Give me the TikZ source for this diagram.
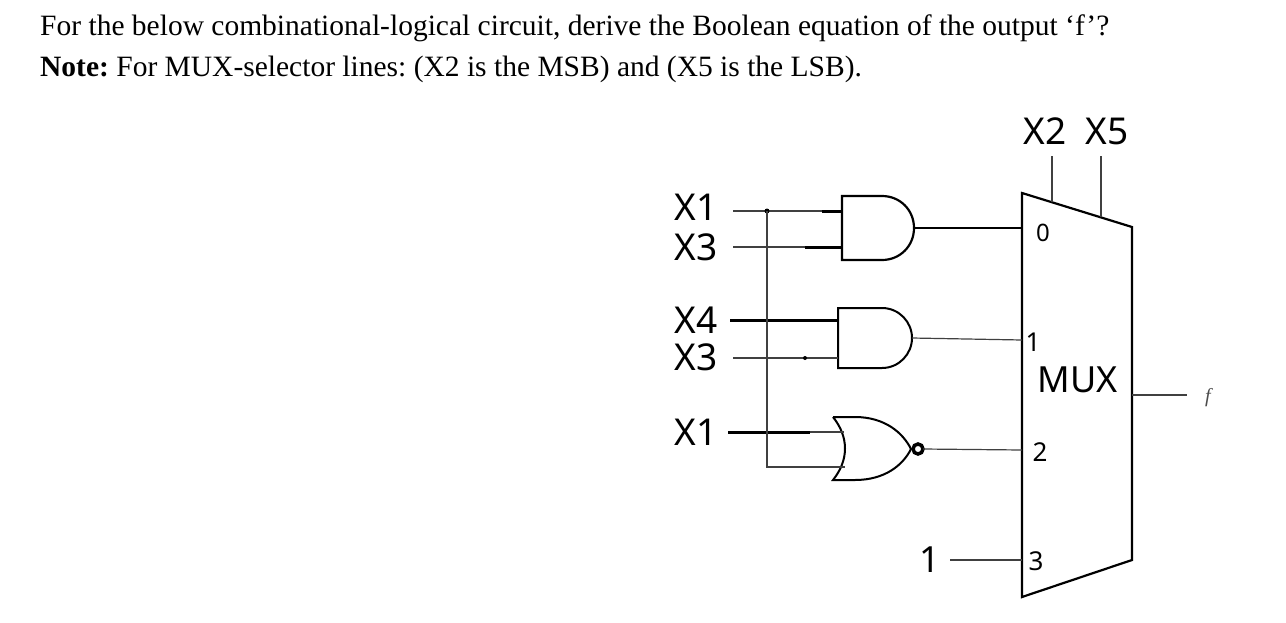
\documentclass[tikz,border=0pt]{standalone}
\usepackage{fontspec}
\setmainfont{Liberation Serif}
\newfontfamily\lbl{Noto Sans}
\frenchspacing
\begin{document}
\begin{tikzpicture}[x=1pt,y=-1pt,
  wire/.style={line width=1.2pt,draw=black!75},
  thick wire/.style={line width=3pt},
  gate/.style={line width=2.2pt},
  lab/.style={font=\lbl\fontsize{37}{37}\selectfont,inner sep=0pt},
  pin/.style={font=\lbl\fontsize{26}{26}\selectfont,inner sep=0pt},
  title/.style={font=\fontsize{29.5}{29.5}\selectfont,anchor=base west,inner sep=0pt}]
\useasboundingbox (0,0) rectangle (1286,622);
\node[title] (t1) at (40,35) {For the below combinational-logical circuit, derive the Boolean equation of the output ‘f’?};
\node[title] (t2) at (40,76) {\textbf{Note:} For MUX-selector lines: (X2 is the MSB) and (X5 is the LSB).};
% labels
\node[lab,anchor=east] (a1) at (718,207) {X1};
\node[lab,anchor=east] (a3) at (718,247) {X3};
\node[lab,anchor=east] (b4) at (718,320) {X4};
\node[lab,anchor=east] (b3) at (718,357) {X3};
\node[lab,anchor=east] (c1) at (718,432) {X1};
\node[lab] (s2) at (1045,131) {X2};
\node[lab] (s5) at (1107,131) {X5};
% gates
\draw[gate] (842,196) -- (882,196) .. controls (900,196) and (914,210) .. (914,228) .. controls (914,246) and (900,260) .. (882,260) -- (842,260) -- cycle;
\coordinate (g1) at (914,228);
\draw[gate,line width=2pt] (838,308) -- (882,308) .. controls (899,308) and (912,322) .. (912,338) .. controls (912,354) and (899,368) .. (882,368) -- (838,368) -- cycle;
\coordinate (g2) at (912,338);
\draw[gate,line width=2pt] (833,417) -- (855,417) .. controls (885,417) and (903,433) .. (911,449) .. controls (903,465) and (885,480) .. (855,480) -- (833,480) .. controls (849,460) and (849,437) .. (833,417);
\draw[line width=3.5pt] (918,449) circle[radius=5];
\coordinate (g3) at (923,449);
% MUX
\draw[gate] (1022,193) -- (1132,227) -- (1132,560) -- (1022,597) -- cycle;
\coordinate (m0) at (1022,228);
\coordinate (m1) at (1022,340);
\coordinate (m2) at (1022,450);
\coordinate (m3) at (1022,560);
\coordinate (mo) at (1132,395);
\node[pin,font=\lbl\bfseries\fontsize{24}{24}\selectfont] (p0) at (1043,233) {0};
\node[pin] (p1) at (1033,342) {1};
\node[pin] (p2) at (1040,452) {2};
\node[pin] (p3) at (1036,561) {3};
\node[lab,font=\lbl\fontsize{36}{36}\selectfont] (mux) at (1078,380) {MUX};
\node[font=\itshape\fontsize{20}{20}\selectfont,text=black!70] (f) at (1208,398) {f};
\node[font=\lbl\bfseries\fontsize{36}{36}\selectfont,inner sep=0pt] (one) at (930,560) {1};
% selector lines
\coordinate (x2b) at (1052,202);
\coordinate (x5b) at (1101,217);
\draw[wire] (1052,156) -- (x2b);
\draw[wire] (1101,156) -- (x5b);
% input wires
\draw[wire] (733,211) -- (822,211);
\draw[thick wire] (822,211) -- (842,211);
\draw[wire] (733,247) -- (805,247);
\draw[thick wire] (805,247) -- (842,247);
\draw[thick wire] (730,320) -- (838,320);
\draw[wire] (733,358) -- (838,358);
\fill (805,358) circle[radius=2];
\draw[thick wire] (728,432) -- (810,432);
\draw[wire] (810,432) -- (844,432);
\fill (767,211) circle[radius=2.5];
\draw[wire] (767,211) -- (767,467) -- (845,467);
% outputs
\draw[thick wire,line width=2.5pt] (g1) -- (m0);
\draw[wire] (g2) -- (m1);
\draw[wire] (g3) -- (m2);
\draw[wire] (950,560) -- (m3);
\draw[wire] (mo) -- (1187,395);
\end{tikzpicture}
\end{document}
